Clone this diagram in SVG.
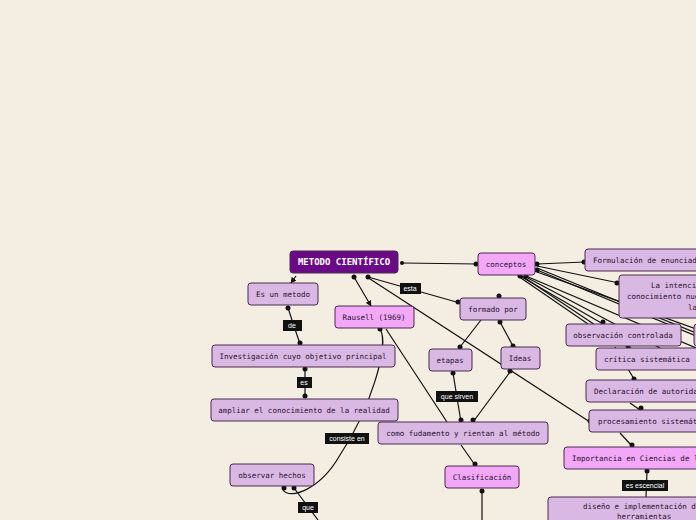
<svg xmlns="http://www.w3.org/2000/svg" width="696" height="520" viewBox="0 0 696 520">
<style>
.n rect{stroke:#4a2a50;stroke-width:1;rx:3}
.l{fill:#d9b8e3}.p{fill:#f2a8f7}.d{fill:#6b0a86}
text{font-family:"DejaVu Sans Mono",monospace;font-size:7.5px;fill:#2a1030}
.c{text-anchor:middle}
.w{fill:#fff;font-size:9px;font-weight:bold}
.lb rect{fill:#111}.lb text{fill:#fff;font-family:"Liberation Sans",sans-serif;font-size:7px;text-anchor:middle}
#e path,#e line{stroke:#111;stroke-width:1.2;fill:none}
#e circle{fill:#111}
</style>
<defs><marker id="a" viewBox="0 0 10 10" refX="9" refY="5" markerWidth="5" markerHeight="5" orient="auto"><path d="M0 0L10 5L0 10z" fill="#111"/></marker></defs>
<rect width="696" height="520" fill="#f4eee2"/>
<g id="e">
<line x1="402" y1="263" x2="478" y2="264"/><circle cx="402" cy="263" r="2"/><circle cx="476" cy="264" r="2.5"/>
<line x1="296" y1="276" x2="291" y2="283" marker-end="url(#a)"/>
<line x1="354" y1="277" x2="371" y2="306" marker-end="url(#a)"/><circle cx="354" cy="277" r="2.5"/>
<line x1="368" y1="277" x2="460" y2="303"/><circle cx="368" cy="277" r="2.5"/><circle cx="458" cy="302" r="2.5"/>
<line x1="367" y1="277" x2="590" y2="422"/><circle cx="590" cy="421" r="2.5"/>
<line x1="288" y1="308" x2="300" y2="344"/><circle cx="288" cy="308" r="2.5"/><circle cx="300" cy="343" r="2.5"/>
<line x1="305" y1="369" x2="305" y2="396"/><circle cx="305" cy="369" r="2.5"/><circle cx="305" cy="396" r="2.5"/>
<path d="M380 329C390 345 370 410 340 455C320 490 290 500 283 490"/><circle cx="380" cy="329" r="2.5"/><circle cx="294" cy="488" r="2.5"/><circle cx="284" cy="488" r="2.5"/>
<line x1="386" y1="329" x2="447" y2="422"/>
<line x1="481" y1="320" x2="460" y2="347"/><circle cx="460" cy="347" r="2.5"/><circle cx="499" cy="296" r="2.5"/>
<line x1="500" y1="322" x2="513" y2="346"/><circle cx="500" cy="322" r="2.5"/><circle cx="513" cy="346" r="2.5"/>
<line x1="453" y1="373" x2="461" y2="422"/><circle cx="453" cy="373" r="2.5"/><circle cx="461" cy="420" r="2.5"/>
<line x1="510" y1="372" x2="473" y2="422"/><circle cx="510" cy="371" r="2.5"/><circle cx="473" cy="420" r="2.5"/>
<line x1="461" y1="445" x2="475" y2="465"/><circle cx="475" cy="464" r="2.5"/>
<line x1="482" y1="491" x2="482" y2="520"/><circle cx="482" cy="491" r="2.5"/>
<line x1="294" y1="488" x2="318" y2="520"/>
<line x1="647" y1="471" x2="646" y2="497"/><circle cx="647" cy="471" r="2.5"/>
<line x1="620" y1="433" x2="632" y2="446"/><circle cx="632" cy="445" r="2.5"/>
<line x1="630" y1="403" x2="640" y2="410"/><circle cx="641" cy="408" r="2.5"/>
<line x1="615" y1="347" x2="634" y2="379"/><circle cx="634" cy="379" r="2.5"/>
<line x1="626" y1="346" x2="635" y2="350"/>
<line x1="537" y1="264" x2="585" y2="262"/><circle cx="584" cy="262" r="2.5"/>
<line x1="537" y1="266" x2="619" y2="283"/><circle cx="617" cy="283" r="2.5"/>
<line x1="537" y1="268" x2="696" y2="333"/><line x1="537" y1="270" x2="696" y2="336"/>
<line x1="537" y1="272" x2="696" y2="329"/>
<line x1="520" y1="276" x2="603" y2="324"/><circle cx="603" cy="322" r="2.5"/>
<line x1="522" y1="276" x2="628" y2="347"/><circle cx="628" cy="346" r="2.5"/>
<line x1="524" y1="276" x2="660" y2="348"/>
<line x1="526" y1="276" x2="696" y2="348"/>
<line x1="518" y1="276" x2="588" y2="324"/>
<circle cx="520" cy="276" r="2.5"/><circle cx="526" cy="276" r="2.5"/><circle cx="537" cy="264" r="2.5"/><circle cx="537" cy="270" r="2.5"/>
</g>
<g class="n" id="n1"><rect class="d" x="290" y="251" width="108" height="22"/><text class="c w" x="344" y="265">METODO CIENTÍFICO</text></g>
<g class="n" id="n2"><rect class="p" x="478" y="253" width="57" height="22"/><text class="c" x="506" y="267">conceptos</text></g>
<g class="n" id="n3"><rect class="l" x="248" y="283" width="70" height="22"/><text class="c" x="283" y="297">Es un metodo</text></g>
<g class="n" id="n4"><rect class="p" x="335" y="306" width="79" height="22"/><text class="c" x="374" y="320">Rausell (1969)</text></g>
<g class="n" id="n5"><rect class="l" x="460" y="298" width="66" height="22"/><text class="c" x="493" y="312">formado por</text></g>
<g class="n" id="n6"><rect class="l" x="212" y="345" width="183" height="22"/><text class="c" x="303" y="359">Investigación cuyo objetivo principal</text></g>
<g class="n" id="n7"><rect class="l" x="429" y="349" width="43" height="22"/><text class="c" x="450" y="363">etapas</text></g>
<g class="n" id="n8"><rect class="l" x="501" y="347" width="39" height="22"/><text class="c" x="520" y="361">Ideas</text></g>
<g class="n" id="n9"><rect class="l" x="211" y="399" width="187" height="22"/><text class="c" x="304" y="413">ampliar el conocimiento de la realidad</text></g>
<g class="n" id="n10"><rect class="l" x="378" y="422" width="170" height="22"/><text class="c" x="463" y="436">como fudamento y rientan al método</text></g>
<g class="n" id="n11"><rect class="l" x="230" y="464" width="84" height="22"/><text class="c" x="272" y="478">observar hechos</text></g>
<g class="n" id="n12"><rect class="p" x="445" y="466" width="74" height="22"/><text class="c" x="482" y="480">Clasificación</text></g>
<g class="n" id="n13"><rect class="l" x="585" y="249" width="130" height="22"/><text x="593" y="263">Formulación de enunciados</text></g>
<g class="n" id="n14"><rect class="l" x="619" y="275" width="100" height="43"/><text x="651" y="288">La intención de</text><text x="627" y="299">conocimiento nuevo</text><text x="688" y="310">la</text></g>
<g class="n" id="n15"><rect class="l" x="694" y="324" width="20" height="22"/></g>
<g class="n" id="n16"><rect class="l" x="566" y="324" width="115" height="22"/><text class="c" x="623" y="338">observación controlada</text></g>
<g class="n" id="n17"><rect class="l" x="596" y="348" width="110" height="22"/><text x="604" y="362">crítica sistemática</text></g>
<g class="n" id="n18"><rect class="l" x="586" y="380" width="120" height="22"/><text x="594" y="394">Declaración de autoridad</text></g>
<g class="n" id="n19"><rect class="l" x="589" y="410" width="120" height="22"/><text x="598" y="424">procesamiento sistemático</text></g>
<g class="n" id="n20"><rect class="p" x="564" y="447" width="150" height="22"/><text x="572" y="461">Importancia en Ciencias de la</text></g>
<g class="n" id="n21"><rect class="l" x="548" y="497" width="160" height="30"/><text x="583" y="509">diseño e implementación de</text><text x="617" y="519">herramientas</text></g>
<g class="lb"><rect x="400" y="283" width="21" height="11"/><text x="410" y="291">esta</text>
<rect x="283" y="320" width="19" height="11"/><text x="292" y="328">de</text>
<rect x="297" y="377" width="15" height="11"/><text x="304" y="385">es</text>
<rect x="436" y="391" width="42" height="11"/><text x="457" y="399">que sirven</text>
<rect x="325" y="433" width="44" height="11"/><text x="347" y="441">consiste en</text>
<rect x="298" y="502" width="20" height="11"/><text x="308" y="510">que</text>
<rect x="622" y="480" width="46" height="11"/><text x="645" y="488">es escencial</text></g>
</svg>
